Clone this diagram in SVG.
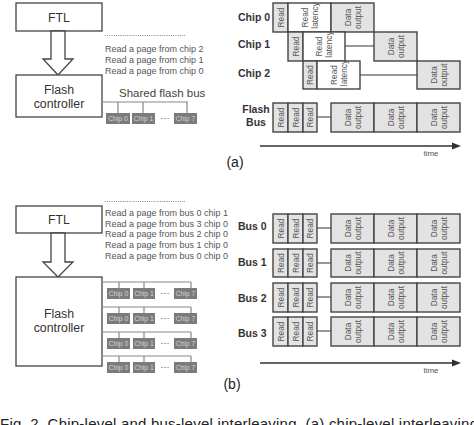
<svg xmlns="http://www.w3.org/2000/svg" width="474" height="425" viewBox="0 0 474 425">
<style>
text{font-family:"Liberation Sans",Arial,sans-serif}
.box{fill:#fff;stroke:#444;stroke-width:1.3}
.big{font-size:12.3px;fill:#333;text-anchor:middle}
.cmd{font-size:9px;fill:#555}
.dot{stroke:#666;stroke-width:0.8;stroke-dasharray:1 1.2;fill:none}
.bus{stroke:#888;stroke-width:1.2;fill:none}
.chip{fill:#7b7b7b}
.ct{font-size:6.8px;fill:#d4d4d4;text-anchor:middle}
.dots{font-size:9px;fill:#444;text-anchor:middle}
.lbl{font-size:10.5px;font-weight:bold;fill:#333}
.tb{fill:#e3e3e3;stroke:#444;stroke-width:1.4}
.tw{fill:#fff;stroke:#444;stroke-width:1.4}
.tt{font-size:8.3px;fill:#555;text-anchor:middle;dominant-baseline:central}
.con{stroke:#999;stroke-width:2;fill:none}
.ax{stroke:#333;stroke-width:1.4;fill:none}
.time{font-size:8px;fill:#555;text-anchor:middle}
.sub{font-size:14px;fill:#222;text-anchor:middle}
</style>

<!-- ===== Part (a) left ===== -->
<g id="a-ftl"><rect class="box" x="16" y="3" width="86" height="28"/><text class="big" x="59" y="21.5">FTL</text></g>
<g id="a-arrow"><polygon class="box" points="51,31 65,31 65,59 73,59 58,75 43,59 51,59"/></g>
<g id="a-ctrl"><rect class="box" x="16" y="75" width="86" height="42"/><text class="big" x="59" y="94">Flash</text><text class="big" x="59" y="107.5">controller</text></g>
<g id="a-cmds">
<line class="dot" x1="105" y1="35.5" x2="185" y2="35.5"/>
<text class="cmd" x="105" y="52">Read a page from chip 2</text>
<text class="cmd" x="105" y="63">Read a page from chip 1</text>
<text class="cmd" x="105" y="74">Read a page from chip 0</text>
</g>
<g id="a-busconn"><path class="bus" d="M102 102H188M118 102V113M143 102V113M187 102V113"/></g>
<g id="a-buslabel"><text x="119" y="97" style="font-size:11.5px;fill:#444">Shared flash bus</text></g>
<g id="a-chips">
<rect class="chip" x="106" y="113" width="24" height="11"/><text class="ct" x="118" y="121">Chip 0</text>
<rect class="chip" x="132" y="113" width="23" height="11"/><text class="ct" x="143.5" y="121">Chip 1</text>
<text class="dots" x="165" y="121">···</text>
<rect class="chip" x="174" y="113" width="23" height="11"/><text class="ct" x="185.5" y="121">Chip 7</text>
</g>

<!-- ===== Part (a) right ===== -->
<g id="a-labels">
<text class="lbl" x="238" y="21">Chip 0</text>
<text class="lbl" x="238" y="48">Chip 1</text>
<text class="lbl" x="238" y="77">Chip 2</text>
<text class="lbl" x="256" y="113" text-anchor="middle">Flash</text>
<text class="lbl" x="256" y="126" text-anchor="middle">Bus</text>
</g>
<g id="connectors">
<path class="con" d="M345 46H374M360 75H417M317 117H331"/>
<path class="con" d="M317 228H331M317 263H331M317 297H331M317 331H331"/>
</g>
<g id="a-chip0">
<rect class="tb" x="273" y="3" width="15" height="29"/><text class="tt" x="280.5" y="17.5" transform="rotate(-90 280.5 17.5)">Read</text>
<rect class="tw" x="288" y="3" width="43" height="29"/><text class="tt" x="304.5" y="17.5" transform="rotate(-90 304.5 17.5)">Read</text><text class="tt" x="314.5" y="15.5" transform="rotate(-90 314.5 15.5)">latency</text>
<rect class="tb" x="331" y="3" width="43" height="29"/><text class="tt" x="347.5" y="17.5" transform="rotate(-90 347.5 17.5)">Data</text><text class="tt" x="357.5" y="17.5" transform="rotate(-90 357.5 17.5)">output</text>
</g>
<g id="a-chip1">
<rect class="tb" x="288" y="32" width="15" height="29"/><text class="tt" x="295.5" y="46.5" transform="rotate(-90 295.5 46.5)">Read</text>
<rect class="tw" x="303" y="32" width="42" height="29"/><text class="tt" x="319" y="46.5" transform="rotate(-90 319 46.5)">Read</text><text class="tt" x="329" y="44.5" transform="rotate(-90 329 44.5)">latency</text>
<rect class="tb" x="374" y="32" width="43" height="29"/><text class="tt" x="390.5" y="46.5" transform="rotate(-90 390.5 46.5)">Data</text><text class="tt" x="400.5" y="46.5" transform="rotate(-90 400.5 46.5)">output</text>
</g>
<g id="a-chip2">
<rect class="tb" x="303" y="61" width="14" height="28"/><text class="tt" x="310" y="75" transform="rotate(-90 310 75)">Read</text>
<rect class="tw" x="317" y="61" width="43" height="28"/><text class="tt" x="333.5" y="75" transform="rotate(-90 333.5 75)">Read</text><text class="tt" x="343.5" y="73" transform="rotate(-90 343.5 73)">latency</text>
<rect class="tb" x="417" y="61" width="43" height="28"/><text class="tt" x="433.5" y="75" transform="rotate(-90 433.5 75)">Data</text><text class="tt" x="443.5" y="75" transform="rotate(-90 443.5 75)">output</text>
</g>
<g id="a-flashbus">
<rect class="tb" x="273" y="103" width="15" height="29"/><text class="tt" x="280.5" y="117.5" transform="rotate(-90 280.5 117.5)">Read</text>
<rect class="tb" x="288" y="103" width="15" height="29"/><text class="tt" x="295.5" y="117.5" transform="rotate(-90 295.5 117.5)">Read</text>
<rect class="tb" x="303" y="103" width="14" height="29"/><text class="tt" x="310" y="117.5" transform="rotate(-90 310 117.5)">Read</text>
<rect class="tb" x="331" y="103" width="43" height="29"/><text class="tt" x="347.5" y="117.5" transform="rotate(-90 347.5 117.5)">Data</text><text class="tt" x="357.5" y="117.5" transform="rotate(-90 357.5 117.5)">output</text>
<rect class="tb" x="374" y="103" width="43" height="29"/><text class="tt" x="390.5" y="117.5" transform="rotate(-90 390.5 117.5)">Data</text><text class="tt" x="400.5" y="117.5" transform="rotate(-90 400.5 117.5)">output</text>
<rect class="tb" x="417" y="103" width="43" height="29"/><text class="tt" x="433.5" y="117.5" transform="rotate(-90 433.5 117.5)">Data</text><text class="tt" x="443.5" y="117.5" transform="rotate(-90 443.5 117.5)">output</text>
</g>
<g id="a-time">
<line class="ax" x1="260" y1="146" x2="453" y2="146"/><polygon points="461,146 452,142.5 452,149.5" fill="#333"/>
<text class="time" x="431" y="156">time</text>
</g>
<text class="sub" x="235" y="167">(a)</text>

<!-- ===== Part (b) left ===== -->
<g id="b-ftl"><rect class="box" x="16" y="206" width="86" height="27"/><text class="big" x="59" y="224">FTL</text></g>
<g id="b-arrow"><polygon class="box" points="51,233 65,233 65,262 73,262 58,277 43,262 51,262"/></g>
<g id="b-ctrl"><rect class="box" x="16" y="277" width="86" height="89"/><text class="big" x="59" y="318">Flash</text><text class="big" x="59" y="332">controller</text></g>
<g id="b-cmds">
<line class="dot" x1="105" y1="201.5" x2="185" y2="201.5"/>
<text class="cmd" x="105" y="216">Read a page from bus 0 chip 1</text>
<text class="cmd" x="105" y="226.7">Read a page from bus 3 chip 0</text>
<text class="cmd" x="105" y="237.4">Read a page from bus 2 chip 0</text>
<text class="cmd" x="105" y="248.1">Read a page from bus 1 chip 0</text>
<text class="cmd" x="105" y="258.8">Read a page from bus 0 chip 0</text>
</g>
<g id="b-busconn"><path class="bus" d="M102 282H191M119 282V288M144 282V288M191 282V288M102 307H191M119 307V313M144 307V313M191 307V313M102 332H191M119 332V338M144 332V338M191 332V338M102 356H191M119 356V362M144 356V362M191 356V362"/></g>
<g id="b-chips">
<rect class="chip" x="107" y="288" width="23" height="11"/><text class="ct" x="118.5" y="296">Chip 0</text>
<rect class="chip" x="133" y="288" width="22" height="11"/><text class="ct" x="144" y="296">Chip 1</text>
<text class="dots" x="165" y="296">···</text>
<rect class="chip" x="174" y="288" width="23" height="11"/><text class="ct" x="185.5" y="296">Chip 7</text>
<rect class="chip" x="107" y="313" width="23" height="11"/><text class="ct" x="118.5" y="321">Chip 0</text>
<rect class="chip" x="133" y="313" width="22" height="11"/><text class="ct" x="144" y="321">Chip 1</text>
<text class="dots" x="165" y="321">···</text>
<rect class="chip" x="174" y="313" width="23" height="11"/><text class="ct" x="185.5" y="321">Chip 7</text>
<rect class="chip" x="107" y="338" width="23" height="11"/><text class="ct" x="118.5" y="346">Chip 0</text>
<rect class="chip" x="133" y="338" width="22" height="11"/><text class="ct" x="144" y="346">Chip 1</text>
<text class="dots" x="165" y="346">···</text>
<rect class="chip" x="174" y="338" width="23" height="11"/><text class="ct" x="185.5" y="346">Chip 7</text>
<rect class="chip" x="107" y="362" width="23" height="11"/><text class="ct" x="118.5" y="370">Chip 0</text>
<rect class="chip" x="133" y="362" width="22" height="11"/><text class="ct" x="144" y="370">Chip 1</text>
<text class="dots" x="165" y="370">···</text>
<rect class="chip" x="174" y="362" width="23" height="11"/><text class="ct" x="185.5" y="370">Chip 7</text>
</g>

<!-- ===== Part (b) right ===== -->
<g id="b-labels">
<text class="lbl" x="238" y="230">Bus 0</text>
<text class="lbl" x="238" y="266">Bus 1</text>
<text class="lbl" x="238" y="302">Bus 2</text>
<text class="lbl" x="238" y="337">Bus 3</text>
</g>
<g id="b-bus0">
<rect class="tb" x="273" y="214" width="15" height="29"/><text class="tt" x="280.5" y="228.5" transform="rotate(-90 280.5 228.5)">Read</text>
<rect class="tb" x="288" y="214" width="15" height="29"/><text class="tt" x="295.5" y="228.5" transform="rotate(-90 295.5 228.5)">Read</text>
<rect class="tb" x="303" y="214" width="14" height="29"/><text class="tt" x="310" y="228.5" transform="rotate(-90 310 228.5)">Read</text>
<rect class="tb" x="331" y="214" width="43" height="29"/><text class="tt" x="347.5" y="228.5" transform="rotate(-90 347.5 228.5)">Data</text><text class="tt" x="357.5" y="228.5" transform="rotate(-90 357.5 228.5)">output</text>
<rect class="tb" x="374" y="214" width="43" height="29"/><text class="tt" x="390.5" y="228.5" transform="rotate(-90 390.5 228.5)">Data</text><text class="tt" x="400.5" y="228.5" transform="rotate(-90 400.5 228.5)">output</text>
<rect class="tb" x="417" y="214" width="43" height="29"/><text class="tt" x="433.5" y="228.5" transform="rotate(-90 433.5 228.5)">Data</text><text class="tt" x="443.5" y="228.5" transform="rotate(-90 443.5 228.5)">output</text>
</g>
<g id="b-bus1">
<rect class="tb" x="273" y="249" width="15" height="28"/><text class="tt" x="280.5" y="263" transform="rotate(-90 280.5 263)">Read</text>
<rect class="tb" x="288" y="249" width="15" height="28"/><text class="tt" x="295.5" y="263" transform="rotate(-90 295.5 263)">Read</text>
<rect class="tb" x="303" y="249" width="14" height="28"/><text class="tt" x="310" y="263" transform="rotate(-90 310 263)">Read</text>
<rect class="tb" x="331" y="249" width="43" height="28"/><text class="tt" x="347.5" y="263" transform="rotate(-90 347.5 263)">Data</text><text class="tt" x="357.5" y="263" transform="rotate(-90 357.5 263)">output</text>
<rect class="tb" x="374" y="249" width="43" height="28"/><text class="tt" x="390.5" y="263" transform="rotate(-90 390.5 263)">Data</text><text class="tt" x="400.5" y="263" transform="rotate(-90 400.5 263)">output</text>
<rect class="tb" x="417" y="249" width="43" height="28"/><text class="tt" x="433.5" y="263" transform="rotate(-90 433.5 263)">Data</text><text class="tt" x="443.5" y="263" transform="rotate(-90 443.5 263)">output</text>
</g>
<g id="b-bus2">
<rect class="tb" x="273" y="283" width="15" height="29"/><text class="tt" x="280.5" y="297.5" transform="rotate(-90 280.5 297.5)">Read</text>
<rect class="tb" x="288" y="283" width="15" height="29"/><text class="tt" x="295.5" y="297.5" transform="rotate(-90 295.5 297.5)">Read</text>
<rect class="tb" x="303" y="283" width="14" height="29"/><text class="tt" x="310" y="297.5" transform="rotate(-90 310 297.5)">Read</text>
<rect class="tb" x="331" y="283" width="43" height="29"/><text class="tt" x="347.5" y="297.5" transform="rotate(-90 347.5 297.5)">Data</text><text class="tt" x="357.5" y="297.5" transform="rotate(-90 357.5 297.5)">output</text>
<rect class="tb" x="374" y="283" width="43" height="29"/><text class="tt" x="390.5" y="297.5" transform="rotate(-90 390.5 297.5)">Data</text><text class="tt" x="400.5" y="297.5" transform="rotate(-90 400.5 297.5)">output</text>
<rect class="tb" x="417" y="283" width="43" height="29"/><text class="tt" x="433.5" y="297.5" transform="rotate(-90 433.5 297.5)">Data</text><text class="tt" x="443.5" y="297.5" transform="rotate(-90 443.5 297.5)">output</text>
</g>
<g id="b-bus3">
<rect class="tb" x="273" y="317" width="15" height="29"/><text class="tt" x="280.5" y="331.5" transform="rotate(-90 280.5 331.5)">Read</text>
<rect class="tb" x="288" y="317" width="15" height="29"/><text class="tt" x="295.5" y="331.5" transform="rotate(-90 295.5 331.5)">Read</text>
<rect class="tb" x="303" y="317" width="14" height="29"/><text class="tt" x="310" y="331.5" transform="rotate(-90 310 331.5)">Read</text>
<rect class="tb" x="331" y="317" width="43" height="29"/><text class="tt" x="347.5" y="331.5" transform="rotate(-90 347.5 331.5)">Data</text><text class="tt" x="357.5" y="331.5" transform="rotate(-90 357.5 331.5)">output</text>
<rect class="tb" x="374" y="317" width="43" height="29"/><text class="tt" x="390.5" y="331.5" transform="rotate(-90 390.5 331.5)">Data</text><text class="tt" x="400.5" y="331.5" transform="rotate(-90 400.5 331.5)">output</text>
<rect class="tb" x="417" y="317" width="43" height="29"/><text class="tt" x="433.5" y="331.5" transform="rotate(-90 433.5 331.5)">Data</text><text class="tt" x="443.5" y="331.5" transform="rotate(-90 443.5 331.5)">output</text>
</g>
<g id="b-time">
<line class="ax" x1="260" y1="363" x2="453" y2="363"/><polygon points="461,363 452,359.5 452,366.5" fill="#333"/>
<text class="time" x="431" y="373">time</text>
</g>
<text class="sub" x="232" y="389">(b)</text>

<text x="0" y="429" textLength="478" lengthAdjust="spacing" style="font-size:15px;fill:#222">Fig. 2. Chip-level and bus-level interleaving. (a) chip-level interleaving</text>
</svg>
